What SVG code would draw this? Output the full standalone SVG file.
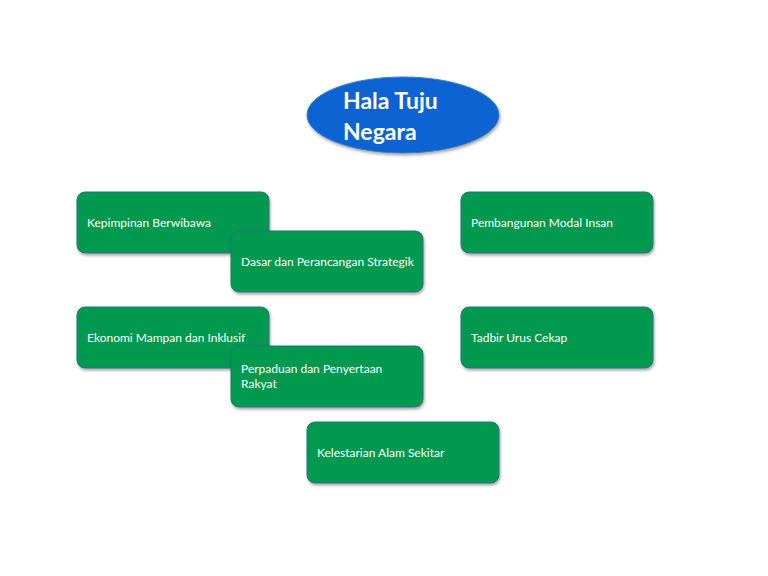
<svg xmlns="http://www.w3.org/2000/svg" width="768" height="576" viewBox="0 0 768 576">
<style>
.b{fill:#00994e;stroke:#2e6e8e;stroke-width:1}
.t{fill:#fff;font-family:Lato,"Liberation Sans",sans-serif;font-size:12px}
.h{fill:#fff;font-family:Lato,"Liberation Sans",sans-serif;font-size:23px;font-weight:bold}
</style>
<defs><filter id="s" x="-10%" y="-10%" width="130%" height="140%"><feDropShadow dx="1" dy="2" stdDeviation="1.5" flood-color="#000" flood-opacity="0.35"/></filter></defs>
<rect width="768" height="576" fill="#fff"/>
<g id="connectors"></g>
<g id="title"><ellipse cx="403" cy="115" rx="96" ry="38" fill="#0a64d2" stroke="#3a7fc0" filter="url(#s)"/><text class="h" x="343" y="109">Hala Tuju</text><text class="h" x="343" y="140">Negara</text></g>
<g id="n1"><rect class="b" x="77" y="192" width="192" height="61" rx="8" filter="url(#s)"/><text class="t" x="87" y="227">Kepimpinan Berwibawa</text></g>
<g id="n2"><rect class="b" x="231" y="231" width="192" height="61" rx="8" filter="url(#s)"/><text class="t" x="241" y="266">Dasar dan Perancangan Strategik</text></g>
<g id="n3"><rect class="b" x="461" y="192" width="192" height="61" rx="8" filter="url(#s)"/><text class="t" x="471" y="227">Pembangunan Modal Insan</text></g>
<g id="n4"><rect class="b" x="77" y="307" width="192" height="61" rx="8" filter="url(#s)"/><text class="t" x="87" y="342">Ekonomi Mampan dan Inklusif</text></g>
<g id="n5"><rect class="b" x="231" y="346" width="192" height="61" rx="8" filter="url(#s)"/><text class="t" x="241" y="373">Perpaduan dan Penyertaan</text><text class="t" x="241" y="388">Rakyat</text></g>
<g id="n6"><rect class="b" x="461" y="307" width="192" height="61" rx="8" filter="url(#s)"/><text class="t" x="471" y="342">Tadbir Urus Cekap</text></g>
<g id="n7"><rect class="b" x="307" y="422" width="192" height="61" rx="8" filter="url(#s)"/><text class="t" x="317" y="457">Kelestarian Alam Sekitar</text></g>
</svg>
